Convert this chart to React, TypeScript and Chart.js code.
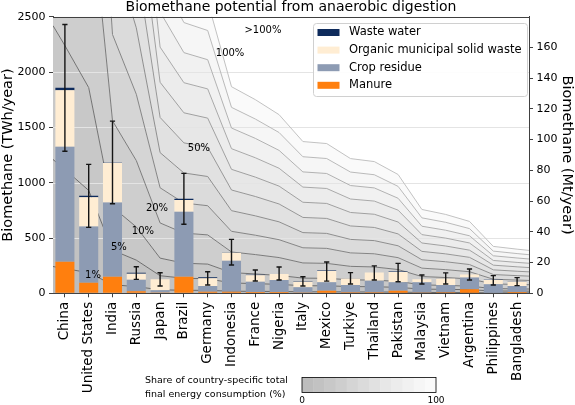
import React, { useEffect, useRef } from 'react';
import { Chart, registerables } from 'chart.js';

Chart.register(...registerables);

// ---------------- data ----------------
const countries = ['China', 'United States', 'India', 'Russia', 'Japan', 'Brazil', 'Germany', 'Indonesia', 'France', 'Nigeria', 'Italy', 'Mexico', 'Turkiye', 'Thailand', 'Pakistan', 'Malaysia', 'Vietnam', 'Argentina', 'Philippines', 'Bangladesh'];

// biomethane potential by feedstock (TWh/year)
const manure = [286, 96, 150, 18, 7, 150, 13, 15, 12, 12, 8, 24, 10, 10, 24, 8, 10, 36, 6, 12];
const cropResidue = [1039, 509, 672, 105, 20, 588, 53, 280, 93, 108, 46, 75, 65, 104, 75, 91, 65, 106, 75, 54];
const organicMsw = [512, 263, 356, 54, 99, 105, 69, 72, 58, 54, 51, 103, 58, 73, 94, 27, 58, 27, 39, 39];
const wasteWater = [22, 14, 3, 9, 2, 12, 10, 3, 4, 1, 3, 4, 3, 2, 4, 2, 2, 2, 2, 2];

// uncertainty range of the total (TWh/year)
const errLow = [1284, 596, 810, 126, 66, 625, 75, 256, 111, 120, 66, 110, 84, 120, 105, 84, 84, 120, 75, 69];
const errHigh = [2430, 1166, 1557, 240, 186, 1084, 195, 488, 211, 238, 150, 283, 187, 248, 271, 166, 185, 220, 160, 142];

// country-specific total final energy consumption (TWh/year), plus the values at the plot edges
const tfc = [22400, 18600, 7800, 6000, 3180, 2720, 2640, 1868, 1751, 1615, 1372, 1354, 1218, 1191, 1074, 758, 713, 650, 424, 399];
const tfcLeftEdge = 24200;
const tfcRightEdge = 388;

// contour levels (% of total final energy consumption)
const shareLevels = [1, 5, 10, 20, 30, 40, 50, 60, 70, 80, 90, 100];
const colorbarTicks = [0, 100];

const leftTicks = [0, 500, 1000, 1500, 2000, 2500];
const rightTicks = [0, 20, 40, 60, 80, 100, 120, 140, 160];
const TWH_PER_MT = 13.9;
const Y_MAX = 2500;

// ---------------- styles ----------------
const C_MANURE = '#ff7f0e';
const C_CROP = '#8d9bb3';
const C_MSW = '#ffedd3';
const C_WW = '#0e2b5c';
const bandColors = ['#bdbdbd', '#c2c2c2', '#c8c8c8', '#cecece', '#d5d5d5', '#dbdbdb', '#e1e1e1', '#e7e7e7', '#ececec', '#f1f1f1', '#f6f6f6', '#fafafa'];
const lineColors = ['#6a6a6a', '#6e6e6e', '#737373', '#7c7c7c', '#858585', '#8e8e8e', '#979797', '#a0a0a0', '#a9a9a9', '#b2b2b2', '#bababa', '#c2c2c2'];
const AXIS = '#404040';

const contourLabels = [
  { text: '1%', x: 1.18, y: 165 },
  { text: '5%', x: 2.27, y: 418 },
  { text: '10%', x: 3.28, y: 563 },
  { text: '20%', x: 3.87, y: 771 },
  { text: '50%', x: 5.63, y: 1313 },
  { text: '100%', x: 6.94, y: 2173 },
  { text: '>100%', x: 8.32, y: 2379 },
];

const legendItems = [
  { label: 'Waste water', color: C_WW },
  { label: 'Organic municipal solid waste', color: C_MSW },
  { label: 'Crop residue', color: C_CROP },
  { label: 'Manure', color: C_MANURE },
];

const FONT = 'DejaVu Sans';

const overlayPlugin = {
  id: 'overlay',
  beforeDatasetsDraw(chart: any) {
    const { ctx, chartArea: a, scales } = chart;
    const y = scales.y;
    ctx.save();
    ctx.strokeStyle = '#e4e4e4';
    ctx.lineWidth = 1;
    leftTicks.forEach((t) => {
      if (t <= 0 || t >= Y_MAX) return;
      const py = Math.round(y.getPixelForValue(t)) + 0.5;
      ctx.beginPath();
      ctx.moveTo(a.left, py);
      ctx.lineTo(a.right, py);
      ctx.stroke();
    });
    ctx.restore();
  },
  afterDatasetsDraw(chart: any) {
    const { ctx, scales } = chart;
    const x = scales.x;
    const y = scales.y;
    ctx.save();
    // error bars
    ctx.strokeStyle = '#151515';
    ctx.lineWidth = 1.4;
    countries.forEach((_, i) => {
      const px = x.getPixelForValue(i);
      const y0 = y.getPixelForValue(errLow[i]);
      const y1 = y.getPixelForValue(errHigh[i]);
      ctx.beginPath();
      ctx.moveTo(px, y0);
      ctx.lineTo(px, y1);
      ctx.moveTo(px - 2.6, y0);
      ctx.lineTo(px + 2.6, y0);
      ctx.moveTo(px - 2.6, y1);
      ctx.lineTo(px + 2.6, y1);
      ctx.stroke();
    });
    // contour labels
    const xc = scales.xc;
    const yc = scales.yc;
    ctx.fillStyle = '#000';
    ctx.font = `10px "${FONT}"`;
    ctx.textAlign = 'center';
    ctx.textBaseline = 'middle';
    contourLabels.forEach((l) => {
      ctx.fillText(l.text, xc.getPixelForValue(l.x), yc.getPixelForValue(l.y));
    });
    ctx.restore();
  },
  afterDraw(chart: any) {
    const { ctx, chartArea: a } = chart;
    ctx.save();
    // top spine
    ctx.strokeStyle = AXIS;
    ctx.lineWidth = 1;
    ctx.beginPath();
    ctx.moveTo(a.left, Math.round(a.top) + 0.5);
    ctx.lineTo(a.right, Math.round(a.top) + 0.5);
    ctx.stroke();

    // legend
    const lx = 313, ly = 23, lw = 214, lh = 73;
    ctx.fillStyle = 'rgba(255,255,255,0.9)';
    ctx.strokeStyle = '#d0d0d0';
    ctx.lineWidth = 1;
    ctx.beginPath();
    (ctx as any).roundRect(lx + 0.5, ly + 0.5, lw, lh, 3);
    ctx.fill();
    ctx.stroke();
    ctx.font = `11.5px "${FONT}"`;
    ctx.textAlign = 'left';
    ctx.textBaseline = 'middle';
    legendItems.forEach((it, i) => {
      const cy = ly + 9.5 + i * 17.6;
      ctx.fillStyle = it.color;
      ctx.fillRect(lx + 4.5, cy - 3.5, 22, 7);
      ctx.fillStyle = '#000';
      ctx.fillText(it.label, lx + 36, cy);
    });

    // colorbar (uniform spacing of the contour bands)
    const cbx = 302, cby = 377.5, cbw = 134, cbh = 15;
    const nb = shareLevels.length;
    for (let k = 0; k < nb; k++) {
      const x0 = cbx + (k / nb) * cbw;
      const x1 = cbx + ((k + 1) / nb) * cbw;
      ctx.fillStyle = bandColors[k];
      ctx.fillRect(x0, cby, x1 - x0 + 0.5, cbh);
    }
    ctx.strokeStyle = '#000';
    ctx.lineWidth = 0.8;
    ctx.strokeRect(cbx, cby, cbw, cbh);
    ctx.fillStyle = '#000';
    ctx.font = `9px "${FONT}"`;
    ctx.textAlign = 'center';
    ctx.textBaseline = 'middle';
    colorbarTicks.forEach((t) => {
      ctx.fillText(String(t), cbx + (t / 100) * cbw, cby + cbh + 8);
    });
    ctx.font = `9.5px "${FONT}"`;
    ctx.textAlign = 'left';
    ctx.fillText('Share of country-specific total', 145, 381);
    ctx.fillText('final energy consumption (%)', 145, 395);
    ctx.restore();
  },
};

export default function App() {
  const ref = useRef<HTMLCanvasElement | null>(null);

  useEffect(() => {
    if (!ref.current) return;
    Chart.defaults.font.family = FONT;
    Chart.defaults.color = '#000';

    const lineSets = shareLevels.map((lvl, i) => ({
      type: 'line' as const,
      label: `${lvl}%`,
      data: [
        { x: -0.5, y: (tfcLeftEdge * lvl) / 100 },
        ...tfc.map((t, j) => ({ x: j, y: (t * lvl) / 100 })),
        { x: 19.5, y: (tfcRightEdge * lvl) / 100 },
      ],
      xAxisID: 'xc',
      yAxisID: 'yc',
      borderColor: lineColors[i],
      borderWidth: 1,
      pointRadius: 0,
      tension: 0,
      fill: i === 0 ? 'origin' : '-1',
      backgroundColor: bandColors[i],
      order: 2,
    }));

    const barBase = {
      type: 'bar' as const,
      xAxisID: 'x',
      yAxisID: 'y',
      stack: 'total',
      grouped: false,
      order: 0,
      barPercentage: 0.8,
      categoryPercentage: 1,
      borderWidth: 0,
    };

    const chart = new Chart(ref.current, {
      type: 'bar',
      data: {
        labels: countries,
        datasets: [
          ...lineSets,
          { ...barBase, label: 'Manure', data: manure, backgroundColor: C_MANURE },
          { ...barBase, label: 'Crop residue', data: cropResidue, backgroundColor: C_CROP },
          { ...barBase, label: 'Organic municipal solid waste', data: organicMsw, backgroundColor: C_MSW },
          { ...barBase, label: 'Waste water', data: wasteWater, backgroundColor: C_WW },
        ] as any,
      },
      options: {
        responsive: false,
        animation: false,
        devicePixelRatio: 1,
        layout: { padding: 0 },
        plugins: {
          legend: { display: false },
          tooltip: { enabled: false },
          filler: { drawTime: 'beforeDatasetsDraw' },
          title: {
            display: true,
            text: 'Biomethane potential from anaerobic digestion',
            fullSize: false,
            font: { size: 14, weight: 'normal', lineHeight: 1.1 },
            padding: { top: 0, bottom: 1.4 },
            color: '#000',
          },
        },
        scales: {
          x: {
            type: 'category',
            stacked: true,
            offset: true,
            grid: { offset: false, drawOnChartArea: false, drawTicks: true, tickLength: 4, color: AXIS },
            border: { display: true, color: AXIS },
            ticks: { autoSkip: false, maxRotation: 90, minRotation: 90, padding: 4.5, font: { size: 13.5 }, color: '#000' },
            afterFit: (s: any) => { s.height = 111.7; },
          },
          y: {
            type: 'linear',
            position: 'left',
            stacked: true,
            min: 0,
            max: Y_MAX,
            afterBuildTicks: (s: any) => { s.ticks = leftTicks.map((v) => ({ value: v })); },
            ticks: { font: { size: 11 }, padding: 3.5, color: '#000', callback: (v: any) => String(v) },
            grid: { drawOnChartArea: false, drawTicks: true, tickLength: 4, color: AXIS },
            border: { display: true, color: AXIS },
            title: { display: true, text: 'Biomethane (TWh/year)', font: { size: 14.5 }, padding: { top: 0, bottom: 0 }, color: '#000' },
            afterFit: (s: any) => { s.width = 53; },
          },
          y2: {
            type: 'linear',
            position: 'right',
            min: 0,
            max: Y_MAX / TWH_PER_MT,
            afterBuildTicks: (s: any) => { s.ticks = rightTicks.map((v) => ({ value: v })); },
            ticks: { font: { size: 11 }, padding: 3.5, color: '#000', callback: (v: any) => String(v) },
            grid: { drawOnChartArea: false, drawTicks: true, tickLength: 4, color: AXIS },
            border: { display: true, color: AXIS },
            title: { display: true, text: 'Biomethane (Mt/year)', font: { size: 14.5 }, padding: { top: 0, bottom: 0 }, color: '#000' },
            afterFit: (s: any) => { s.width = 46; },
          },
          xc: { type: 'linear', display: false, offset: false, grid: { offset: false }, min: -0.5, max: 19.5 },
          yc: { type: 'linear', display: false, min: 0, max: Y_MAX },
        },
      } as any,
      plugins: [overlayPlugin],
    });
    return () => chart.destroy();
  }, []);

  return (
    <div style={{ position: 'fixed', left: 0, top: 0, width: 575, height: 405, background: '#fff' }}>
      <canvas ref={ref} width={575} height={405} style={{ width: 575, height: 405, display: 'block' }} />
    </div>
  );
}
